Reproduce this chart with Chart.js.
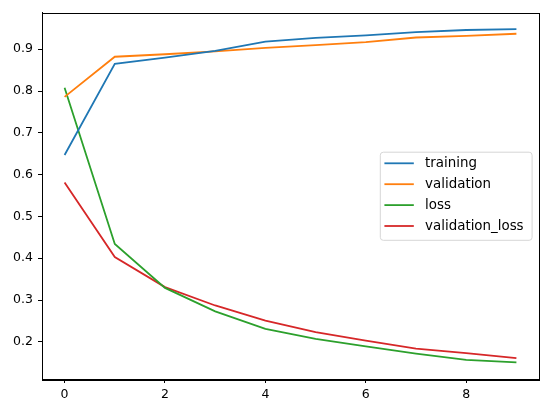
<!DOCTYPE html>
<html>
<head>
<meta charset="utf-8">
<script src="https://cdn.jsdelivr.net/npm/chart.js@4.4.1/dist/chart.umd.min.js"></script>
<style>
  html, body { margin: 0; padding: 0; background: #fff; }
  #wrap { width: 547px; height: 413px; }
</style>
</head>
<body>
<div id="wrap"><canvas id="lossChart"></canvas></div>
<script>
const epochs = [0, 1, 2, 3, 4, 5, 6, 7, 8, 9];
const training = [0.647, 0.865, 0.880, 0.896, 0.918, 0.927, 0.933, 0.941, 0.946, 0.948];
const validation = [0.786, 0.882, 0.888, 0.895, 0.903, 0.910, 0.917, 0.928, 0.932, 0.937];
const loss = [0.808, 0.434, 0.329, 0.273, 0.231, 0.207, 0.189, 0.172, 0.157, 0.151];
const validationLoss = [0.581, 0.403, 0.331, 0.287, 0.251, 0.223, 0.203, 0.184, 0.173, 0.161];
const seriesNames = ['training', 'validation', 'loss', 'validation_loss'];
const xTicks = [0, 2, 4, 6, 8];
const yTicks = [0.2, 0.3, 0.4, 0.5, 0.6, 0.7, 0.8, 0.9];

const colors = ['#1f77b4', '#ff7f0e', '#2ca02c', '#d62728'];
const FONT = 'DejaVu Sans';

// matplotlib style 5% margins
const allY = training.concat(validation, loss, validationLoss);
const yLo = Math.min(...allY), yHi = Math.max(...allY);
const yPad = (yHi - yLo) * 0.05;
const xLo = Math.min(...epochs), xHi = Math.max(...epochs);
const xPad = (xHi - xLo) * 0.05;

const series = [training, validation, loss, validationLoss];
const datasets = series.map((vals, i) => ({
    label: seriesNames[i],
    data: vals.map((v, j) => ({ x: epochs[j], y: v })),
    borderColor: colors[i],
    backgroundColor: colors[i],
    borderWidth: 1.8,
    pointRadius: 0,
    tension: 0,
    fill: false
}));

// box around the plot + legend inside, like matplotlib
const framePlugin = {
    id: 'frame',
    afterDraw(chart) {
        const { ctx, chartArea: a } = chart;
        ctx.save();
        ctx.strokeStyle = '#000';
        ctx.lineWidth = 1;
        ctx.strokeRect(Math.round(a.left) + 0.5, Math.round(a.top) + 0.5,
            Math.round(a.right - a.left), Math.round(a.bottom - a.top));

        // legend
        ctx.font = '13.4px "' + FONT + '"';
        const names = chart.data.datasets.map(d => d.label);
        const textW = Math.max(...names.map(n => ctx.measureText(n).width));
        const rowH = 20.9;
        const boxW = 45.3 + textW + 8;
        const boxH = rowH * names.length + 4.5;
        const right = a.right - 7.4;
        const left = right - boxW;
        const top = (a.top + a.bottom) / 2 - boxH / 2;
        ctx.beginPath();
        ctx.roundRect(left + 0.5, top + 0.5, boxW, boxH, 3);
        ctx.fillStyle = 'rgba(255,255,255,0.8)';
        ctx.fill();
        ctx.strokeStyle = '#d6d6d6';
        ctx.stroke();
        ctx.textBaseline = 'middle';
        ctx.textAlign = 'left';
        names.forEach((n, i) => {
            const y = top + 11.6 + i * rowH;
            ctx.beginPath();
            ctx.strokeStyle = chart.data.datasets[i].borderColor;
            ctx.lineWidth = 1.8;
            ctx.moveTo(left + 4.6, y);
            ctx.lineTo(left + 34, y);
            ctx.stroke();
            ctx.fillStyle = '#000';
            ctx.fillText(n, left + 45.3, y + 0.5);
        });
        ctx.restore();
    }
};

const ctx = document.getElementById('lossChart').getContext('2d');
const lossChart = new Chart(ctx, {
    type: 'line',
    data: { datasets: datasets },
    options: {
        responsive: true,
        maintainAspectRatio: false,
        animation: false,
        layout: { padding: { left: 0, right: 8, top: 10, bottom: 0 } },
        plugins: {
            legend: { display: false },
            tooltip: { enabled: false }
        },
        scales: {
            x: {
                type: 'linear',
                min: xLo - xPad,
                max: xHi + xPad,
                afterBuildTicks: s => { s.ticks = xTicks.map(v => ({ value: v })); },
                afterFit: s => { s.height = 34; },
                grid: { display: true, drawOnChartArea: false, drawTicks: true, tickLength: 4, color: '#000' },
                border: { display: true, color: '#000', width: 1 },
                ticks: {
                    color: '#000',
                    padding: 4,
                    maxRotation: 0,
                    font: { family: FONT, size: 12.5 },
                    callback: v => String(v)
                }
            },
            y: {
                type: 'linear',
                min: yLo - yPad,
                max: yHi + yPad,
                afterBuildTicks: s => { s.ticks = yTicks.map(v => ({ value: v })); },
                afterFit: s => { s.width = 42; },
                grid: { display: true, drawOnChartArea: false, drawTicks: true, tickLength: 4, color: '#000' },
                border: { display: true, color: '#000', width: 1 },
                ticks: {
                    color: '#000',
                    padding: 5,
                    font: { family: FONT, size: 12.5 },
                    callback: v => v.toFixed(1)
                }
            }
        }
    },
    plugins: [framePlugin]
});
</script>
</body>
</html>
